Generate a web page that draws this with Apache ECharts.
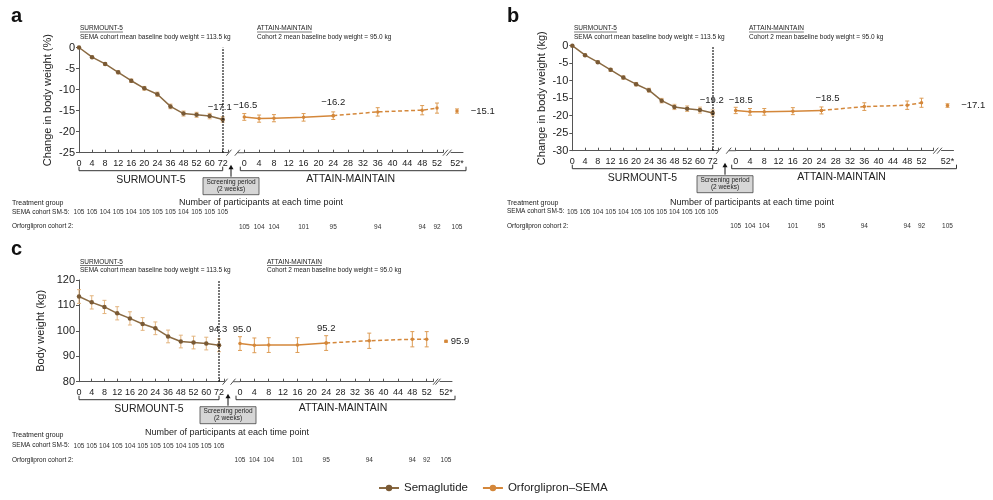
<!DOCTYPE html>
<html>
<head>
<meta charset="utf-8">
<script src="https://cdn.jsdelivr.net/npm/echarts@6.0.0/dist/echarts.min.js"></script>
<style>
html,body{margin:0;padding:0;background:#fff;}
#chart{width:993px;height:500px;}
</style>
</head>
<body>
<div id="chart"></div>
<script>
// time points (weeks)
var smWeeks = [0, 4, 8, 12, 16, 20, 24, 36, 48, 52, 60, 72];
var amWeeks = [0, 4, 8, 16, 24, 36, 48, 52];
var starLabel = '52*';

// participants at each time point
var smCounts = [105, 105, 104, 105, 104, 105, 105, 105, 104, 105, 105, 105];
var amCounts = [105, 104, 104, 101, 95, 94, 94, 92];
var starCount = 105;

// a: change in body weight (%)
var pctSema = [0, -2.3, -3.9, -5.9, -7.9, -9.7, -11.1, -14.0, -15.7, -16.0, -16.3, -17.1];
var pctSemaErr = [0, 0.25, 0.3, 0.35, 0.4, 0.45, 0.5, 0.55, 0.6, 0.6, 0.65, 0.65];
var pctOrf = [-16.5, -16.9, -16.8, -16.6, -16.2, -15.3, -14.9, -14.4];
var pctOrfErr = [0.8, 0.85, 0.85, 0.9, 0.9, 1.0, 1.1, 1.2];
var pctStar = -15.1, pctStarErr = 0.5;

// b: change in body weight (kg)
var kgSema = [0, -2.7, -4.7, -6.9, -9.1, -11.0, -12.7, -15.7, -17.5, -18.0, -18.4, -19.2];
var kgSemaErr = [0, 0.3, 0.35, 0.4, 0.45, 0.5, 0.55, 0.65, 0.75, 0.8, 0.85, 0.85];
var kgOrf = [-18.5, -18.9, -18.9, -18.7, -18.5, -17.4, -17.0, -16.3];
var kgOrfErr = [0.9, 0.95, 0.95, 1.0, 1.0, 1.1, 1.2, 1.3];
var kgStar = -17.1, kgStarErr = 0.5;

// c: body weight (kg)
var bwSema = [113.5, 111.2, 109.4, 106.9, 104.9, 102.7, 101.0, 97.8, 95.8, 95.4, 95.0, 94.3];
var bwSemaErr = [2.7, 2.6, 2.6, 2.6, 2.6, 2.5, 2.5, 2.5, 2.5, 2.5, 2.5, 2.5];
var bwOrf = [95.0, 94.3, 94.4, 94.4, 95.2, 96.1, 96.7, 96.7];
var bwOrfErr = [2.7, 2.9, 2.9, 2.9, 2.9, 3.0, 3.0, 3.0];
var bwStar = 95.9, bwStarErr = 0.4;

var FONT = '"Liberation Sans", Arial, sans-serif';
var SEMA_C = '#8a6a42', SEMA_DOT = '#7a5a35', SEMA_ERR = '#e3b47e';
var ORF_C = '#d4873a', ORF_ERR = '#dd9c55';
var AXIS_C = '#555';

var grids = [], xAxes = [], yAxes = [], series = [], graphics = [];

var mctx = document.createElement('canvas').getContext('2d');
function textW(s, size) { mctx.font = size + 'px ' + FONT; return mctx.measureText(s).width; }
function minus(v) { return v.toFixed(1).replace('-', '\u2212'); }

function T(x, y, s, size, o) {
  o = o || {};
  graphics.push({type: 'text', x: x, y: y, silent: true, z: 10,
    style: {text: s, fontSize: size, fontFamily: FONT, fontWeight: o.bold ? 'bold' : 'normal',
      fill: o.color || '#222', align: o.align || 'left', verticalAlign: o.va || 'middle'}});
}
function L(x1, y1, x2, y2, o) {
  o = o || {};
  graphics.push({type: 'line', silent: true, z: 10, shape: {x1: x1, y1: y1, x2: x2, y2: y2},
    style: {stroke: o.color || AXIS_C, lineWidth: o.w || 1}});
}
function PL(pts, o) {
  o = o || {};
  graphics.push({type: 'polyline', silent: true, z: 10, shape: {points: pts},
    style: {stroke: o.color || '#333', lineWidth: o.w || 1, fill: null}});
}

function errSeries(xi, yi, data, color) {
  return {
    type: 'custom', xAxisIndex: xi, yAxisIndex: yi, data: data, z: 3, silent: true,
    renderItem: function (params, api) {
      var x = api.value(0);
      var lo = api.coord([x, api.value(1)]);
      var hi = api.coord([x, api.value(2)]);
      var st = {stroke: color, lineWidth: 1};
      return {type: 'group', children: [
        {type: 'line', shape: {x1: lo[0], y1: lo[1], x2: hi[0], y2: hi[1]}, style: st},
        {type: 'line', shape: {x1: lo[0] - 2, y1: lo[1], x2: lo[0] + 2, y2: lo[1]}, style: st},
        {type: 'line', shape: {x1: hi[0] - 2, y1: hi[1], x2: hi[0] + 2, y2: hi[1]}, style: st}
      ]};
    }
  };
}

function addPanel(P, d) {
  var g1 = grids.length;
  var smUnit = (P.x72 - P.x0) / 11;
  var amUnit = (P.x52 - P.am0) / 52;
  var h = P.bot - P.top;
  var smEnd = P.x0 + smUnit * 11.4;
  var amEnd = P.am0 + amUnit * P.amMax;
  grids.push({left: P.x0, top: P.top, width: smUnit * 11.4, height: h});
  grids.push({left: P.am0, top: P.top, width: amUnit * P.amMax, height: h});
  grids.push({left: P.star - 6, top: P.top, width: 12, height: h});

  function axLine() { return {onZero: false, lineStyle: {color: AXIS_C, width: 1}}; }
  function axTick() { return {inside: true, length: 3, alignWithLabel: true, lineStyle: {color: AXIS_C}}; }
  function lab(f) { return {formatter: f, fontSize: 9, color: '#222', fontFamily: FONT, margin: 6}; }
  function cnt(f) { return {formatter: f, fontSize: 6.5, color: '#333', fontFamily: FONT, margin: 0}; }
  function none() { return {show: false}; }

  var x1 = xAxes.length;
  xAxes.push({gridIndex: g1, type: 'value', position: 'bottom', min: 0, max: 11.4, interval: 1,
    axisLine: axLine(), axisTick: axTick(), splitLine: none(),
    axisLabel: lab(function (v) { var w = smWeeks[v]; return w === undefined ? '' : String(w); })});
  xAxes.push({gridIndex: g1 + 1, type: 'value', position: 'bottom', min: 0, max: P.amMax, interval: 4,
    axisLine: axLine(), axisTick: axTick(), splitLine: none(),
    axisLabel: lab(function (v) { return v <= 52 ? String(v) : ''; })});
  xAxes.push({gridIndex: g1 + 2, type: 'category', position: 'bottom', data: [starLabel], boundaryGap: true,
    axisLine: axLine(), axisTick: axTick(), axisLabel: lab()});
  // participant rows
  xAxes.push({gridIndex: g1, type: 'value', position: 'bottom', min: 0, max: 11.4, interval: 1,
    offset: P.semaY - P.bot - 3.25, axisLine: {show: false, onZero: false}, axisTick: none(), splitLine: none(),
    axisLabel: cnt(function (v) { var c = smCounts[v]; return c === undefined ? '' : String(c); })});
  xAxes.push({gridIndex: g1 + 1, type: 'value', position: 'bottom', min: 0, max: P.amMax, interval: 4,
    offset: P.orfY - P.bot - 3.25, axisLine: {show: false, onZero: false}, axisTick: none(), splitLine: none(),
    axisLabel: cnt(function (v) { var i = amWeeks.indexOf(v); return i < 0 ? '' : String(amCounts[i]); })});
  xAxes.push({gridIndex: g1 + 2, type: 'category', position: 'bottom', data: [String(starCount)],
    offset: P.orfY - P.bot - 3.25, axisLine: {show: false, onZero: false}, axisTick: none(), axisLabel: cnt()});

  var y1 = yAxes.length;
  yAxes.push({gridIndex: g1, type: 'value', min: P.yMin, max: P.yMax, interval: P.yStep,
    name: P.yName, nameLocation: 'middle', nameGap: P.nameGap,
    nameTextStyle: {fontSize: 11, color: '#222', fontFamily: FONT},
    axisLine: {show: true, lineStyle: {color: AXIS_C}}, axisTick: {show: true, length: 3, lineStyle: {color: AXIS_C}},
    axisLabel: {fontSize: 11, color: '#222', margin: 4, fontFamily: FONT}, splitLine: none()});
  yAxes.push({gridIndex: g1 + 1, type: 'value', min: P.yMin, max: P.yMax, show: false, splitLine: none()});
  yAxes.push({gridIndex: g1 + 2, type: 'value', min: P.yMin, max: P.yMax, show: false, splitLine: none()});

  var dl = {fontSize: 9.5, color: '#222', fontFamily: FONT};
  var last = smWeeks.length - 1;
  series.push({name: 'Semaglutide', type: 'line', xAxisIndex: x1, yAxisIndex: y1, z: 4,
    data: smWeeks.map(function (w, i) { return [i, d.sema[i]]; }),
    color: SEMA_C, lineStyle: {color: SEMA_C, width: 1.5}, symbol: 'circle', symbolSize: 4.5,
    itemStyle: {color: SEMA_DOT},
    label: Object.assign({show: true, position: 'top', distance: P.smDist, offset: P.smOff,
      formatter: function (p) { return p.dataIndex === last ? minus(p.value[1]) : ''; }}, dl),
    markLine: {symbol: 'none', silent: true, label: {show: false}, animation: false,
      lineStyle: {type: 'dotted', color: '#111', width: 1.5}, data: [{xAxis: last}]}
  });
  series.push(errSeries(x1, y1, smWeeks.map(function (w, i) {
    return [i, d.sema[i] - d.semaErr[i], d.sema[i] + d.semaErr[i]];
  }), SEMA_ERR));

  var solidN = amWeeks.indexOf(24) + 1;
  var orfItems = amWeeks.map(function (w, i) { return {value: [w, d.orf[i]]}; });
  var solid = orfItems.slice(0, solidN).map(function (it, i) {
    var o = {value: it.value};
    if (i === 0) o.label = {show: true, distance: P.am0Dist, offset: P.am0Off};
    if (i === solidN - 1) o.label = {show: true, distance: P.am24Dist, offset: P.am24Off};
    return o;
  });
  var orfBase = {name: 'Orforglipron\u2013SEMA', type: 'line', xAxisIndex: x1 + 1, yAxisIndex: y1 + 1, z: 4,
    color: ORF_C, symbol: 'circle', symbolSize: 3.5, itemStyle: {color: ORF_C}};
  series.push(Object.assign({}, orfBase, {data: solid, lineStyle: {color: ORF_C, width: 1.5},
    label: Object.assign({show: false, position: 'top', formatter: function (p) { return minus(p.value[1]); }}, dl)}));
  series.push(Object.assign({}, orfBase, {data: orfItems.slice(solidN - 1),
    lineStyle: {color: ORF_C, width: 1.5, type: [4, 2.5]}}));
  series.push(errSeries(x1 + 1, y1 + 1, amWeeks.map(function (w, i) {
    return [w, d.orf[i] - d.orfErr[i], d.orf[i] + d.orfErr[i]];
  }), ORF_ERR));
  series.push(Object.assign({}, orfBase, {xAxisIndex: x1 + 2, yAxisIndex: y1 + 2, data: [[0, d.star]],
    label: Object.assign({show: true, position: 'right', distance: P.starDist,
      formatter: function (p) { return minus(p.value[1]); }}, dl)}));
  series.push(errSeries(x1 + 2, y1 + 2, [[0, d.star - d.starErr, d.star + d.starErr]], ORF_ERR));

  // panel letter and headers
  T(P.lx, P.ly, P.letter, 20, {bold: true, va: 'bottom', color: '#111'});
  var hs = 6.5;
  T(P.hx1, P.hy, 'SURMOUNT-5', hs);
  L(P.hx1, P.hy + 3.5, P.hx1 + textW('SURMOUNT-5', hs), P.hy + 3.5, {color: '#222', w: 0.6});
  T(P.hx1, P.hy + 8.5, 'SEMA cohort mean baseline body weight = 113.5 kg', hs);
  T(P.hx2, P.hy, 'ATTAIN-MAINTAIN', hs);
  L(P.hx2, P.hy + 3.5, P.hx2 + textW('ATTAIN-MAINTAIN', hs), P.hy + 3.5, {color: '#222', w: 0.6});
  T(P.hx2, P.hy + 8.5, 'Cohort 2 mean baseline body weight = 95.0 kg', hs);

  // axis breaks
  var yb = P.bot;
  var s1 = smEnd + 1, s2 = P.am0 - 7, s3 = amEnd + 2.5, s4 = P.star - 8;
  [s1, s2, s3, s4].forEach(function (s) { L(s - 2.5, yb + 3, s + 2.5, yb - 3); });
  L(s2, yb, P.am0, yb);

  // study brackets
  var bk = P.bot + 18;
  PL([[P.x0, bk - 4], [P.x0, bk], [P.x72, bk], [P.x72, bk - 4]]);
  PL([[P.am0 - 4, bk - 4], [P.am0 - 4, bk], [P.star + 9, bk], [P.star + 9, bk - 4]]);
  T((P.x0 + P.x72) / 2, P.bot + 27, 'SURMOUNT-5', 10.5, {align: 'center'});
  T((P.am0 + P.star) / 2, P.bot + 26, 'ATTAIN-MAINTAIN', 10.5, {align: 'center'});

  // screening period box and arrow
  var bt = P.bot + 25;
  graphics.push({type: 'rect', silent: true, z: 10, shape: {x: P.arrowX - 28, y: bt, width: 56, height: 17},
    style: {fill: '#d6d6d6', stroke: '#444', lineWidth: 0.8}});
  T(P.arrowX, bt + 4.8, 'Screening period', 6.5, {align: 'center'});
  T(P.arrowX, bt + 12, '(2 weeks)', 6.5, {align: 'center'});
  L(P.arrowX, bt - 1, P.arrowX, P.bot + 15, {color: '#111', w: 1});
  graphics.push({type: 'polygon', silent: true, z: 10,
    shape: {points: [[P.arrowX - 2.5, P.bot + 16.5], [P.arrowX + 2.5, P.bot + 16.5], [P.arrowX, P.bot + 12]]},
    style: {fill: '#111'}});

  // participant table labels
  T(P.nX, P.nY, 'Number of participants at each time point', 9, {align: 'center'});
  T(P.tX, P.tY, 'Treatment group', 7);
  T(P.tX, P.semaY, 'SEMA cohort SM-5:', 6.5);
  T(P.tX, P.orfY, 'Orforglipron cohort 2:', 6.5);
}

addPanel({letter: 'a', lx: 11, ly: 26, x0: 79, x72: 222.7, am0: 244.3, x52: 437, amMax: 53.6, star: 457,
  top: 47.5, bot: 152.7, hx1: 80, hx2: 257, hy: 28.5, yName: 'Change in body weight (%)', nameGap: 26,
  yMin: -25, yMax: 0, yStep: 5, arrowX: 231, nX: 261, nY: 202.5, tX: 12, tY: 203, semaY: 212, orfY: 226.7,
  smDist: 5, smOff: [-3, 0], am0Dist: 5, am0Off: [1, 0], am24Dist: 7, am24Off: [0, 0], starDist: 12},
  {sema: pctSema, semaErr: pctSemaErr, orf: pctOrf, orfErr: pctOrfErr, star: pctStar, starErr: pctStarErr});

addPanel({letter: 'b', lx: 507, ly: 26, x0: 572.3, x72: 712.7, am0: 735.7, x52: 921.5, amMax: 55.3, star: 947.5,
  top: 45.7, bot: 150.7, hx1: 574, hx2: 749, hy: 28.5, yName: 'Change in body weight (kg)', nameGap: 25,
  yMin: -30, yMax: 0, yStep: 5, arrowX: 725, nX: 752, nY: 202.3, tX: 507, tY: 203, semaY: 211.7, orfY: 226,
  smDist: 5, smOff: [-1, 0], am0Dist: 3, am0Off: [5, 0], am24Dist: 5, am24Off: [6, 0], starDist: 12},
  {sema: kgSema, semaErr: kgSemaErr, orf: kgOrf, orfErr: kgOrfErr, star: kgStar, starErr: kgStarErr});

addPanel({letter: 'c', lx: 11, ly: 259, x0: 79, x72: 219, am0: 240, x52: 426.7, amMax: 53.8, star: 446,
  top: 280, bot: 381.7, hx1: 80, hx2: 267, hy: 262, yName: 'Body weight (kg)', nameGap: 33,
  yMin: 80, yMax: 120, yStep: 10, arrowX: 228, nX: 227, nY: 433, tX: 12, tY: 435, semaY: 445.7, orfY: 460,
  smDist: 8.5, smOff: [-1, 0], am0Dist: 7, am0Off: [2, 0], am24Dist: 8, am24Off: [0, 0], starDist: 3},
  {sema: bwSema, semaErr: bwSemaErr, orf: bwOrf, orfErr: bwOrfErr, star: bwStar, starErr: bwStarErr});

var chart = echarts.init(document.getElementById('chart'));
chart.setOption({
  animation: false,
  backgroundColor: '#fff',
  textStyle: {fontFamily: FONT},
  grid: grids,
  xAxis: xAxes,
  yAxis: yAxes,
  legend: {data: ['Semaglutide', 'Orforglipron\u2013SEMA'], left: 373, top: 477, itemWidth: 20, itemHeight: 8,
    itemGap: 14, textStyle: {fontSize: 11.5, color: '#222', fontFamily: FONT}},
  series: series,
  graphic: graphics
});
</script>
</body>
</html>
